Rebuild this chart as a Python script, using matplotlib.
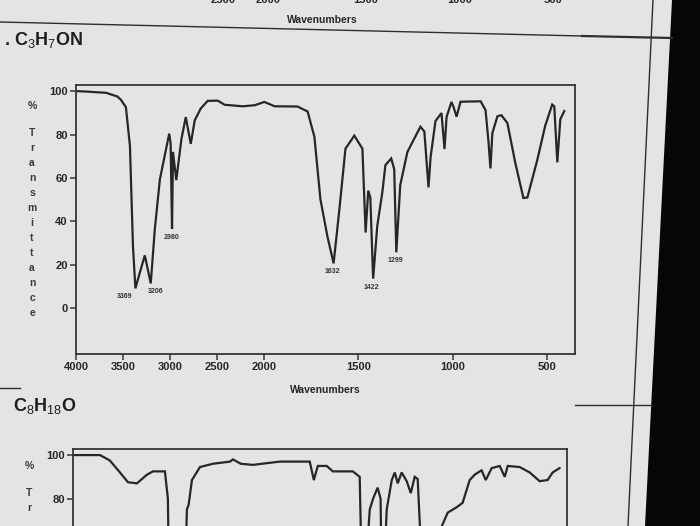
import numpy as np
import matplotlib
matplotlib.use("Agg")
import matplotlib.pyplot as plt
from matplotlib.patches import Polygon
import matplotlib.transforms as mtransforms

plt.rcParams['font.family'] = ['Liberation Sans', 'DejaVu Sans']
plt.rcParams['mathtext.fontset'] = 'custom'
plt.rcParams['mathtext.rm'] = 'Liberation Sans'
plt.rcParams['mathtext.it'] = 'Liberation Sans'
plt.rcParams['mathtext.bf'] = 'Liberation Sans:bold'

# ---------------- data ----------------
title1 = ". C$_3$H$_7$ON"
title2 = "C$_8$H$_{18}$O"

wn1 = [4000, 3900, 3680, 3560, 3523, 3470, 3427, 3395, 3369, 3321, 3269, 3206, 3163, 3109,
       3010, 2995, 2980, 2970, 2935, 2912, 2880, 2834, 2781, 2739, 2675, 2601, 2495, 2421,
       2230, 2100, 2000, 1945, 1824, 1770, 1734, 1702, 1665, 1632, 1601, 1569, 1522, 1479,
       1462, 1448, 1437, 1422, 1400, 1373, 1357, 1326, 1310, 1299, 1278, 1240, 1171, 1150,
       1128, 1117, 1091, 1059, 1043, 1032, 1006, 995, 979, 958, 851, 825, 810, 799, 789,
       762, 741, 709, 667, 624, 603, 550, 508, 471, 460, 444, 428, 407]
tr1 = [100, 99.8, 99.2, 97.5, 96, 92.6, 74.7, 28.6, 9.2, 16.6, 24.4, 11.5, 36.4, 59.4,
       80.4, 76, 36.6, 72, 59, 67, 78, 88, 75.7, 86.5, 92, 95.5, 95.6, 93.7,
       93, 93.5, 95, 93, 92.9, 90.6, 79, 50.2, 33.2, 20.7, 45.8, 73.5, 79.5, 73.5,
       34.9, 54.2, 51, 13.7, 38, 53.5, 65.9, 69, 64, 25.8, 56.8, 72, 83.6, 81.4,
       55.7, 69.5, 86.2, 89.9, 73.3, 88.1, 95, 92.7, 88.2, 95.1, 95.3, 91.2, 77.3, 64.4, 80.6,
       88.4, 88.9, 85.3, 66.9, 50.8, 51, 68.4, 84.1, 93.8, 93, 67.2, 87, 90.8]

peak_wn = [3369, 3206, 2980, 1632, 1422, 1299]
peak_labels = ["3369", "3206", "2980", "1632", "1422", "1299"]
peak_dx = [-11, 5, 0, -1, -2, -1]   # label offsets in pixels

wn2 = [4000, 3710, 3604, 3496, 3410, 3314, 3206, 3142, 3014, 2982, 2960, 2920, 2870, 2830,
       2790, 2778, 2760, 2724, 2638, 2500, 2316, 2284, 2200, 2070, 1890, 1730, 1708, 1687,
       1639, 1606, 1499, 1462, 1450, 1435, 1420, 1408, 1390, 1366, 1350, 1345, 1330, 1317,
       1290, 1274, 1258, 1237, 1210, 1188, 1167, 1151, 1135, 1110, 1080, 1060, 1033, 990,
       942, 910, 872, 845, 808, 786, 754, 711, 684, 668, 604, 550, 497, 454, 427, 390]
tr2 = [100, 100, 97.5, 92, 87.5, 87, 91, 92.5, 92.5, 80, 8, 4, 6, 20,
       55, 75, 77, 88.5, 94.5, 96, 97, 98, 96, 95.5, 97, 97, 88.5, 95,
       95, 92.5, 92.5, 90, 40, 35, 60, 75, 80, 85, 80, 45, 50, 75,
       88.5, 92, 87, 92, 88, 82.5, 90, 89, 60, 12, 20, 45, 65, 73.5,
       76, 78, 88.5, 91, 93, 88.5, 94, 95, 90, 95, 94.5, 92, 88, 88.5, 92, 94]

xticks = [4000, 3500, 3000, 2500, 2000, 1500, 1000, 500]
yticks = [0, 20, 40, 60, 80, 100]
yticks2 = [80, 100]
ylabel_chars = ["%", "T", "r", "a", "n", "s", "m", "i", "t", "t", "a", "n", "c", "e"]
ylabel_chars2 = ["%", "T", "r"]
prev_ticks = [("2500", 223), ("2000", 268), ("1500", 366), ("1000", 460), ("500", 553)]

# ---------------- style ----------------
BG = '#e3e5e4'
INK = '#262626'
W, H = 700, 526

fig = plt.figure(figsize=(7, 5.26), dpi=100, facecolor=BG)


def fwd(w):
    w = np.asarray(w, dtype=float)
    return np.where(w > 2000, 2000 + (w - 2000) / 2.0, w)


def inv(u):
    u = np.asarray(u, dtype=float)
    return np.where(u > 2000, 2000 + (u - 2000) * 2.0, u)


def px_rect(left, right, top, bottom):
    return [left / W, 1 - bottom / H, (right - left) / W, (bottom - top) / H]


def make_axes(rect, yt, chars, first_y, step):
    ax = fig.add_axes(rect)
    ax.set_facecolor(BG)
    ax.set_xscale('function', functions=(fwd, inv))
    ax.set_xlim(4000, 350)
    ax.set_ylim(-21, 102.8)
    ax.set_xticks(xticks)
    ax.set_xticklabels([str(t) for t in xticks])
    ax.minorticks_off()
    ax.set_yticks(yt)
    ax.set_yticklabels([str(t) for t in yt])
    for s in ax.spines.values():
        s.set_color('#353535')
        s.set_linewidth(1.3)
    ax.tick_params(direction='out', length=4, width=1.1, color='#353535',
                   labelsize=8, labelcolor=INK, pad=2)
    for lab in ax.get_xticklabels() + ax.get_yticklabels():
        lab.set_fontweight('bold')
    # stacked y-label
    trans = mtransforms.blended_transform_factory(ax.transAxes, ax.transData)
    ys = [first_y] + list(first_y - 12.4 - step * np.arange(len(chars) - 1))
    for ch, yy in zip(chars, ys):
        ax.text(-0.088, yy, ch, transform=trans, ha='center', va='center',
                fontsize=7.5, fontweight='bold', color='#3a3a3a', clip_on=False)
    return ax


# main chart
ax1 = make_axes(px_rect(76, 575, 85, 354), yticks, ylabel_chars, 93, 6.9)
ax1.plot(wn1, tr1, color=INK, lw=1.6, solid_joinstyle='miter')
ax1.set_xlabel("Wavenumbers", fontsize=7.5, fontweight='bold', color=INK, labelpad=9)
wr, tr_r = np.array(wn1[::-1]), np.array(tr1[::-1])
for pw, lab, dx in zip(peak_wn, peak_labels, peak_dx):
    yv = float(np.interp(pw, wr, tr_r))
    ax1.annotate(lab, xy=(pw, yv), xytext=(dx, -5), textcoords='offset pixels',
                 ha='center', va='top', fontsize=5, fontweight='bold', color='#333333')

# second (cut-off) chart
ax2 = make_axes(px_rect(73, 567, 449, 718), yticks2, ylabel_chars2, 95, 7.0)
ax2.tick_params(labelbottom=False)
ax2.plot(wn2, tr2, color=INK, lw=1.6, solid_joinstyle='miter')

# overlay for page decorations in pixel coordinates
ov = fig.add_axes([0, 0, 1, 1], facecolor='none')
ov.set_xlim(0, W)
ov.set_ylim(H, 0)
ov.axis('off')

ov.text(4, 40, title1, fontsize=13, fontweight='bold', color='#1e1e1e', ha='left', va='center')
ov.text(13, 406, title2, fontsize=13, fontweight='bold', color='#1e1e1e', ha='left', va='center')
ov.text(322, 20, "Wavenumbers", fontsize=7.5, fontweight='bold', color=INK,
        ha='center', va='center')
for lab, xx in prev_ticks:
    ov.text(xx, 0, lab, fontsize=8, fontweight='bold', color=INK, ha='center', va='center')

ov.plot([0, 582], [22, 36], color='#2e2e2e', lw=1.0)
ov.plot([582, 672], [36, 38], color='#2e2e2e', lw=1.6)
ov.plot([0, 20], [388, 388], color='#2e2e2e', lw=1.0)
ov.plot([575, 652], [405, 405], color='#2e2e2e', lw=1.0)
ov.plot([653, 628], [0, 526], color='#2e2e2e', lw=1.0)
ov.add_patch(Polygon([[672, 0], [700, 0], [700, 526], [645, 526]], closed=True,
                     facecolor='#050608', edgecolor='none'))

fig.savefig("out.png", dpi=100, facecolor=BG)
